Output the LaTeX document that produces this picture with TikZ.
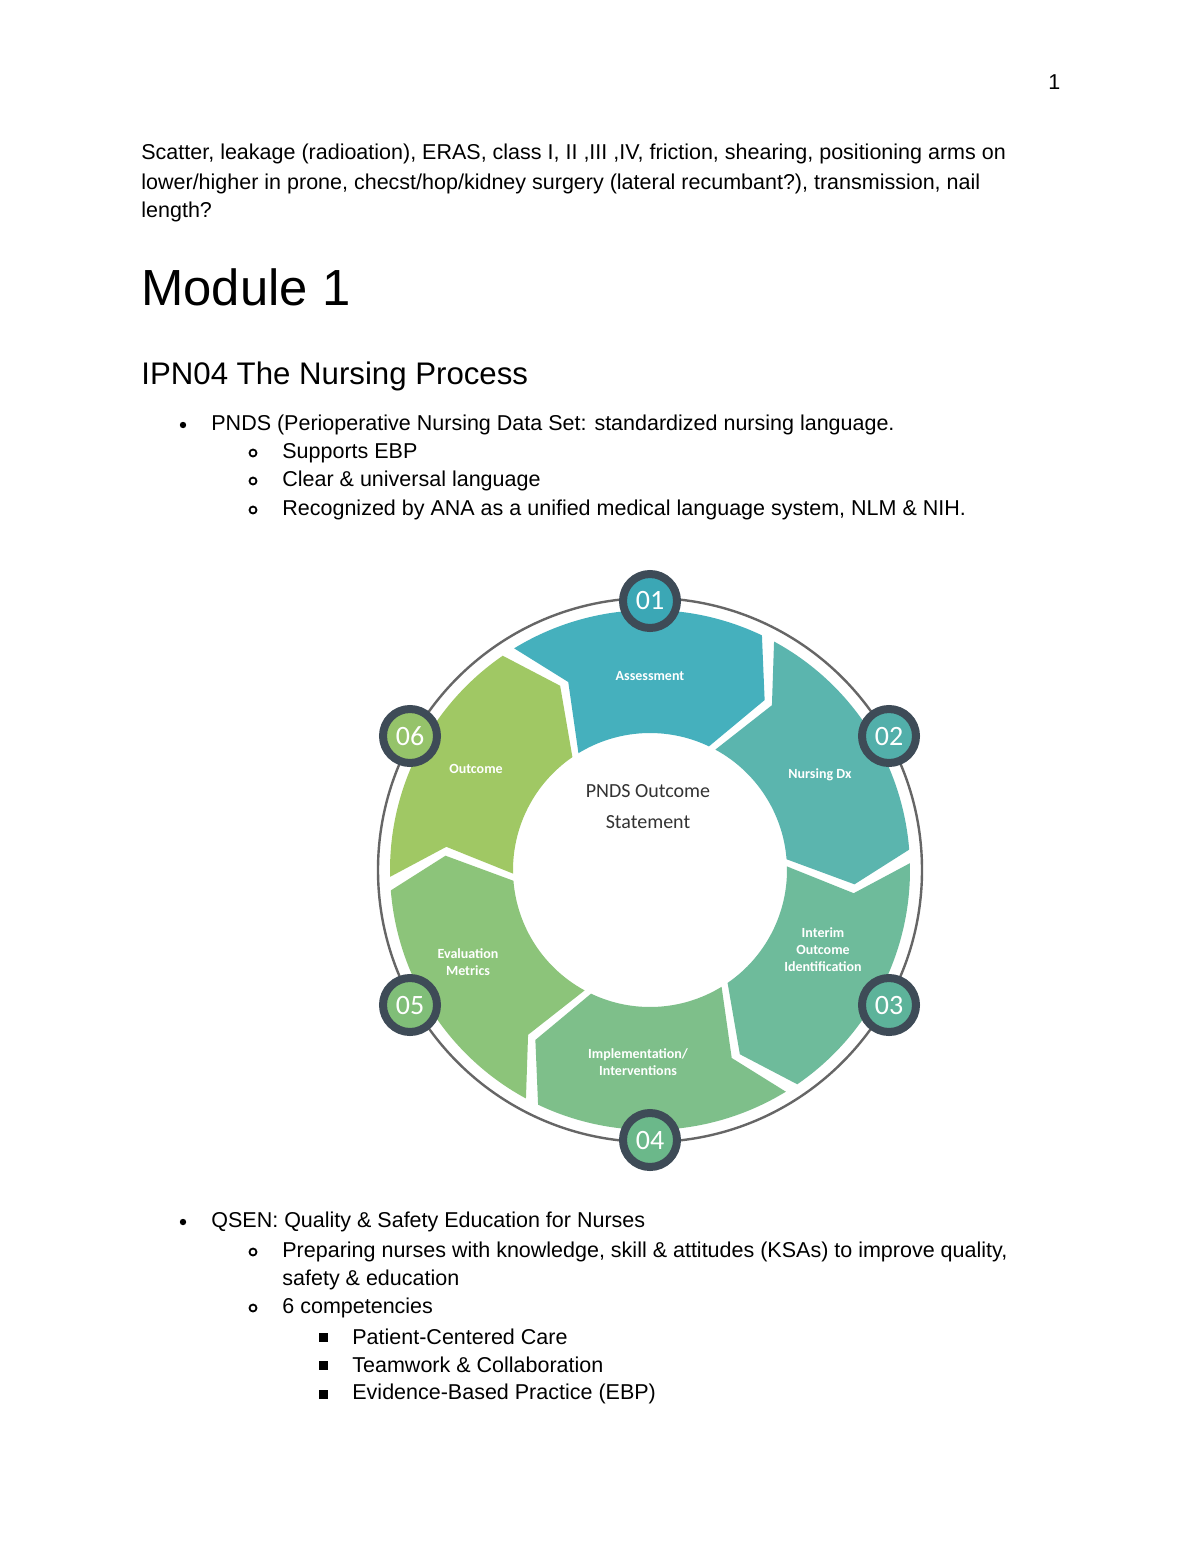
\documentclass[tikz,border=0pt]{standalone}
\usepackage{fontspec}
\setmainfont{Liberation Sans}
\newfontfamily\carl{Carlito}
\begin{document}
\begin{tikzpicture}[x=0.5pt,y=-0.5pt,
  body/.style={anchor=west,inner sep=0pt,font=\fontsize{10.75}{13}\selectfont},
  lab/.style={align=center,text=white,font=\carl\bfseries\fontsize{7}{8.5}\selectfont},
  badge/.style={circle,line width=4pt,minimum size=27pt,inner sep=0pt,text=white,font=\carl\fontsize{14}{14}\selectfont}]
\useasboundingbox (0,0) rectangle (1200,1553);
\fill[white] (0,0) rectangle (1200,1553);
\node[body] (pg) at (1048,82) {1};
\node[body] (p1) at (141,154) {Scatter, leakage (radioation), ERAS, class I, II ,III ,IV, friction, shearing, positioning arms on};
\node[body] (p2) at (141,184) {lower/higher in prone, checst/hop/kidney surgery (lateral recumbant?), transmission, nail};
\node[body] (p3) at (141,212) {length?};
\node[anchor=west,inner sep=0pt,font=\fontsize{25.4}{30}\selectfont] (m1) at (141,287) {Module 1};
\node[anchor=west,inner sep=0pt,font=\fontsize{15.6}{19}\selectfont] (h1) at (141,376) {IPN04 The Nursing Process};
\fill (183,425) circle (3.2);
\node[body] (b1) at (211,425) {PNDS (Perioperative Nursing Data Set: standardized nursing language.};
\foreach \y/\t in {453/Supports EBP,481/Clear \& universal language,510/{Recognized by ANA as a unified medical language system, NLM \& NIH.}}{
  \draw[line width=0.9pt] (253,\y) circle (3.5);
  \node[body] at (282,\y) {\t};}
\fill (183,1222) circle (3.2);
\node[body] (b2) at (211,1222) {QSEN: Quality \& Safety Education for Nurses};
\draw[line width=0.9pt] (253,1252) circle (3.5);
\node[body] at (282,1252) {Preparing nurses with knowledge, skill \& attitudes (KSAs) to improve quality,};
\node[body] at (282,1280) {safety \& education};
\draw[line width=0.9pt] (253,1308) circle (3.5);
\node[body] at (282,1308) {6 competencies};
\foreach \y/\t in {1337/Patient-Centered Care,1365/Teamwork \& Collaboration,1394/Evidence-Based Practice (EBP)}{
  \fill (319,\y-4.5) rectangle (328,\y+4.5);
  \node[body] at (352,\y) {\t};}
% diagram
\begin{scope}[shift={(650,870)},x=0.5pt,y=0.5pt]
\draw[gray!80!black,line width=1.2pt] (0,0) circle (272);
\foreach \a/\c in {120/45B0BD,60/5BB5AE,0/6EBB9B,-60/7EBF8A,-120/8CC47A,-180/A0C864}{
  \definecolor{sc}{HTML}{\c}
  \pgfmathsetmacro{\b}{\a-60}
  \fill[sc] (\a+1.5:260) arc[start angle=\a+1.5,end angle=\b+4.5,radius=260]
     -- (\b-4:205) -- (\b+4.5:137)
     arc[start angle=\b+4.5,end angle=\a+1.5,radius=137]
     -- (\a-6.5:205) -- cycle;}
\end{scope}
\node[lab] (s1) at (650,676) {Assessment};
\node[lab] (s2) at (820,775) {Nursing Dx};
\node[lab] (s3) at (823,950) {Interim\\Outcome\\Identification};
\node[lab] (s4) at (638,1062) {Implementation/\\Interventions};
\node[lab] (s5) at (468,962) {Evaluation\\Metrics};
\node[lab] (s6) at (476,769) {Outcome};
\node[align=center,text=black!80,font=\carl\fontsize{10}{15.5}\selectfont] (ctr) at (648,807) {PNDS Outcome\\Statement};
\definecolor{bd}{HTML}{3E4B57}
\foreach \n/\x/\y/\c in {01/650/601/3BA7B5,02/889/736/52AFAA,03/889/1005/5DB39A,04/650/1140/6BB88A,05/410/1005/80BE78,06/410/736/95C36A}{
  \definecolor{bc}{HTML}{\c}
  \node[badge,draw=bd,fill=bc] (n\n) at (\x,\y) {\n};}
\end{tikzpicture}
\end{document}
